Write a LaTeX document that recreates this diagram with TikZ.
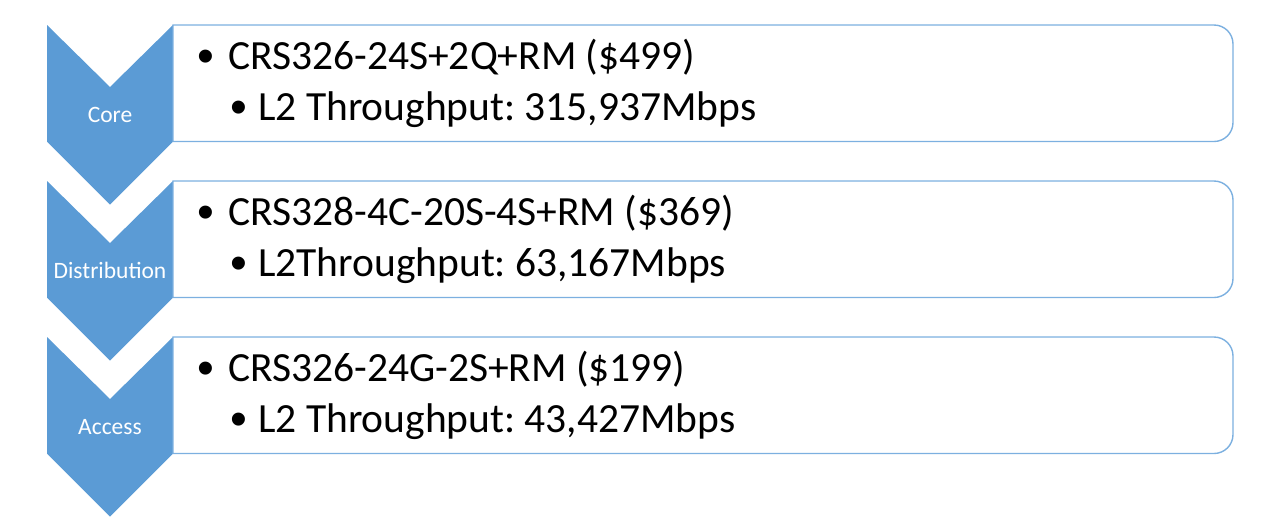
\documentclass[tikz,border=0pt]{standalone}
\usepackage{fontspec}
\setmainfont{Carlito}
\newfontfamily\bulletfont{Liberation Sans}
\definecolor{chev}{HTML}{5B9BD5}
\definecolor{boxline}{HTML}{7CB0E0}
\frenchspacing
\begin{document}
\begin{tikzpicture}[x=1pt,y=-1pt,
  chevron/.style={fill=chev,draw=none},
  panel/.style={draw=boxline,line width=1.4pt,fill=white},
  lbl/.style={anchor=base,text=white,inner sep=0pt,font=\fontsize{23.5}{28}\selectfont},
  itemtext/.style={anchor=base west,inner sep=0pt,font=\fontsize{41.5}{48}\selectfont},
  bul/.style={anchor=base west,inner sep=0pt,font=\bulletfont\fontsize{48}{52}\selectfont}]
\useasboundingbox (0,0) rectangle (1280,523);
% rows: top T, height 116.5
\foreach \T in {25,181,337}{
  \fill[chevron] (47,\T) -- (110,\T+62) -- (173,\T) -- (173,\T+116.5)
        -- (110,\T+179.5) -- (47,\T+116.5) -- cycle;
  \draw[panel] (173,\T) -- (1214,\T) arc[start angle=-90,end angle=0,radius=19]
        -- (1233,\T+97.5) arc[start angle=0,end angle=90,radius=19]
        -- (173,\T+116.5) -- cycle;
}
% row 1
\node[lbl] (l1) at (110,122) {Core};
\node[bul] (b1a) at (197,72.5) {•};
\node[itemtext] (t1a) at (228,69.5) {CRS326-24S+2Q+RM (\$499)};
\node[bul] (b1b) at (230,123) {•};
\node[itemtext] (t1b) at (258,120) {L2 Throughput: 315,937Mbps};
% row 2
\node[lbl] (l2) at (110,278) {Distribution};
\node[bul] (b2a) at (197,228.5) {•};
\node[itemtext] (t2a) at (228,225.5) {CRS328-4C-20S-4S+RM (\$369)};
\node[bul] (b2b) at (230,279) {•};
\node[itemtext] (t2b) at (258,276) {L2Throughput: 63,167Mbps};
% row 3
\node[lbl] (l3) at (110,434) {Access};
\node[bul] (b3a) at (197,384.5) {•};
\node[itemtext] (t3a) at (228,381.5) {CRS326-24G-2S+RM (\$199)};
\node[bul] (b3b) at (230,435) {•};
\node[itemtext] (t3b) at (258,432) {L2 Throughput: 43,427Mbps};
\end{tikzpicture}
\end{document}
